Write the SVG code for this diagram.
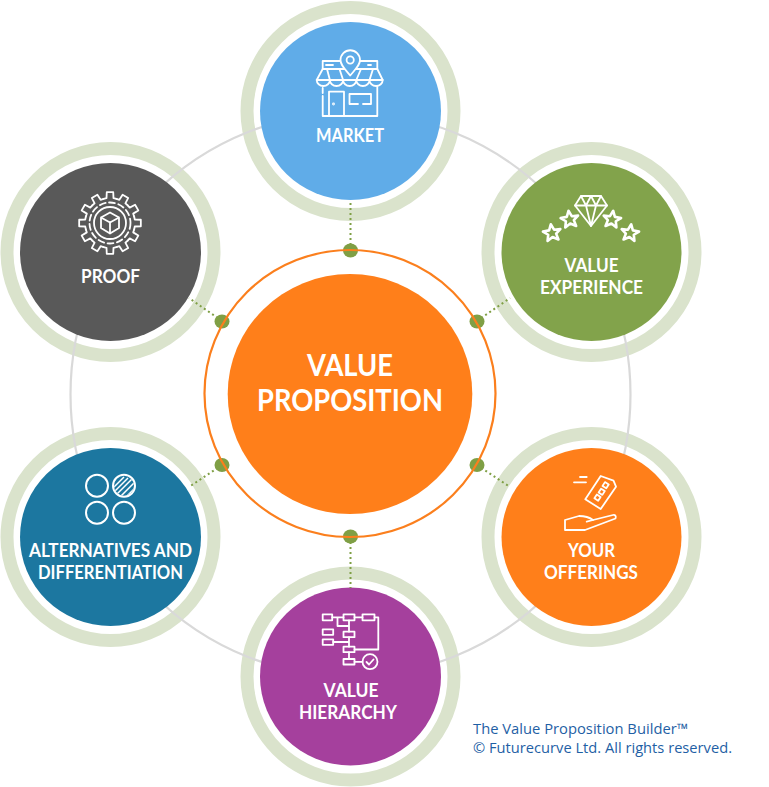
<svg xmlns="http://www.w3.org/2000/svg" xmlns:xlink="http://www.w3.org/1999/xlink" width="769" height="787" viewBox="0 0 769 787">
<style>
.ring{fill:#fff;stroke:#DAE3CC;stroke-width:13}
.ic{fill:none;stroke:#fff;stroke-width:1.8;stroke-linejoin:round;stroke-linecap:round}
.lb{font-family:"Lato","Liberation Sans",sans-serif;font-weight:700;font-size:19px;fill:#fff}
.big{font-size:29.500px}
.dot{fill:#7F9F45}
.dl{fill:none;stroke:#7F9F45;stroke-width:2;stroke-dasharray:2 3}
.ft{font-family:"Open Sans","Liberation Sans",sans-serif;font-size:14.500px;fill:#1F5FA5}
</style>
<defs>
<path id="tooth" class="ic" d="M-6.470-24.150L-3.480-24.760L-3.240-30.830L3.240-30.830L3.480-24.760L6.470-24.150"/>
<path id="star" d="M0-8.800L2.500-3L8.800-2.700L4 1.200L5.500 7.300L0 4L-5.500 7.300L-4 1.200L-8.800-2.700L-2.500-3Z" fill="none" stroke="#fff" stroke-width="2.600" stroke-linejoin="round"/>
<clipPath id="hatch"><circle cx="124" cy="485.700" r="10"/></clipPath>
</defs>

<g id="rings">
<circle class="ring" cx="350.500" cy="111" r="103.500"/>
<circle class="ring" cx="591.500" cy="252" r="103.500"/>
<circle class="ring" cx="591.500" cy="537" r="103.500"/>
<circle class="ring" cx="350.500" cy="676.500" r="103.500"/>
<circle class="ring" cx="110.500" cy="537" r="103.500"/>
<circle class="ring" cx="110.500" cy="252" r="103.500"/>
</g>
<g id="orbit"><ellipse cx="350.500" cy="394.500" rx="280" ry="282" fill="none" stroke="#D9D9D9" stroke-width="2.200"/></g>

<g id="market">
<ellipse cx="350.500" cy="111" rx="90.500" ry="89" fill="#60ACE8"/>
<g class="ic">
<path d="M322.700 69V61H377.300V69M326 65H333M368 65H371"/>
<path d="M322.700 69H377.300L382.700 80H316.700Z"/>
<path d="M316.700 80a6.600 6 0 0 0 13.200 0a6.600 6 0 0 0 13.200 0a6.600 6 0 0 0 13.200 0a6.600 6 0 0 0 13.200 0a6.600 6 0 0 0 13.200 0"/>
<path d="M327 69L329.900 80M339.500 69L343.100 80M361 69L356.300 80M373 69L369.500 80"/>
<path d="M322.700 88V93M322.700 96V116H377.300V87"/>
<path d="M329 116V91.700H344V116"/>
<path d="M363 104H371V94H349.500V104H358"/>
<circle cx="333.500" cy="104" r=".5"/>
<path d="M350.200 75.500C344 68 340.500 65 340.500 60A9.700 9.700 0 0 1 360 60C360 65 356.500 68 350.200 75.500Z" fill="#60ACE8"/>
<circle cx="350.200" cy="60" r="3.600"/>
</g>
<text class="lb" x="350" y="142" text-anchor="middle" textLength="68" lengthAdjust="spacingAndGlyphs">MARKET</text>
</g>

<g id="value-experience">
<ellipse cx="591.500" cy="252" rx="90" ry="89" fill="#82A34B"/>
<g class="ic">
<path d="M581 196H601L607 205.500L591 226L575 205.500Z"/>
<path d="M575 205.500H607M586 205.500L591 226L596 205.500M581 196L586 205.500L591 196L596 205.500L601 196"/>
</g>
<use xlink:href="#star" href="#star" transform="translate(552 233) rotate(-8)"/>
<use xlink:href="#star" href="#star" transform="translate(569.700 219.500) rotate(-8)"/>
<use xlink:href="#star" href="#star" transform="translate(612 219.500) rotate(8)"/>
<use xlink:href="#star" href="#star" transform="translate(630 233) rotate(8)"/>
<text class="lb" x="591.500" y="272" text-anchor="middle" textLength="54" lengthAdjust="spacingAndGlyphs">VALUE</text>
<text class="lb" x="591.500" y="293.500" text-anchor="middle" textLength="103" lengthAdjust="spacingAndGlyphs">EXPERIENCE</text>
</g>

<g id="your-offerings">
<ellipse cx="591.500" cy="537" rx="90" ry="89" fill="#FF7F1A"/>
<g class="ic">
<path d="M600.700 476L613.500 480.700L616 486.700L600.700 509L585.300 499.300Z"/>
<rect x="595.300" y="495.300" width="4.500" height="4.500" transform="rotate(33 597.500 497.500)"/>
<rect x="599.500" y="489.500" width="4.500" height="4.500" transform="rotate(33 601.700 491.700)"/>
<rect x="603.500" y="483" width="4.500" height="4.500" transform="rotate(33 605.700 485)"/>
<path d="M574 482.300H586M580 477H586.700"/>
<path d="M565 520V530H585L615.500 518.500C616.500 516 615 514.500 613 515L593 520C589 517 584 516 579 516Z"/>
<path d="M586.700 521.700L593 520"/>
</g>
<text class="lb" x="591.500" y="557" text-anchor="middle" textLength="47" lengthAdjust="spacingAndGlyphs">YOUR</text>
<text class="lb" x="591" y="578.500" text-anchor="middle" textLength="94" lengthAdjust="spacingAndGlyphs">OFFERINGS</text>
</g>

<g id="value-hierarchy">
<ellipse cx="350.500" cy="676.500" rx="90.500" ry="89" fill="#A5409D"/>
<g class="ic">
<rect x="322.700" y="614.300" width="9.500" height="6"/>
<rect x="343.500" y="614.300" width="11" height="6"/>
<rect x="362.500" y="614.300" width="12" height="6"/>
<rect x="322.700" y="629.300" width="10.500" height="5.500"/>
<rect x="343.500" y="631.700" width="11" height="5.500"/>
<rect x="322.700" y="639.300" width="10.500" height="5.500"/>
<rect x="343.500" y="646.700" width="11" height="5.500"/>
<rect x="343.500" y="659" width="11" height="5.500"/>
<circle cx="370" cy="661.700" r="7.500"/>
<path d="M366.500 662L369 664.500L373.500 659.500"/>
<path d="M332.200 617.300H343.500M354.500 617.300H362.500M374.500 617.300H378.300V649.500H354.500M337.500 617.300V626H349M349 620.300V631.700M349 637.200V646.700M349 652.200V659M354.500 661.800H362.500M333.200 642H349"/>
</g>
<text class="lb" x="351" y="697" text-anchor="middle" textLength="55" lengthAdjust="spacingAndGlyphs">VALUE</text>
<text class="lb" x="348" y="718.500" text-anchor="middle" textLength="98" lengthAdjust="spacingAndGlyphs">HIERARCHY</text>
</g>

<g id="alternatives">
<ellipse cx="110.500" cy="537" rx="90.500" ry="89" fill="#1C77A0"/>
<g class="ic" style="stroke-width:2">
<circle cx="97" cy="485.700" r="11"/>
<circle cx="124" cy="485.700" r="11"/>
<circle cx="97" cy="512.700" r="11"/>
<circle cx="124" cy="512.700" r="11"/>
</g>
<g clip-path="url(#hatch)" stroke="#fff" stroke-width="1.500">
<path d="M112 489L124 477M113 493L128 478M116 495L132 479M120 497L134 483M125 498L136 487M130 498L137 491"/>
</g>
<text class="lb" x="110.500" y="557" text-anchor="middle" textLength="163" lengthAdjust="spacingAndGlyphs">ALTERNATIVES AND</text>
<text class="lb" x="110.500" y="578.500" text-anchor="middle" textLength="145" lengthAdjust="spacingAndGlyphs">DIFFERENTIATION</text>
</g>

<g id="proof">
<ellipse cx="110.500" cy="252" rx="90.500" ry="89" fill="#595959"/>
<g transform="translate(110 223)">
<use xlink:href="#tooth" href="#tooth"/>
<use xlink:href="#tooth" href="#tooth" transform="rotate(30)"/>
<use xlink:href="#tooth" href="#tooth" transform="rotate(60)"/>
<use xlink:href="#tooth" href="#tooth" transform="rotate(90)"/>
<use xlink:href="#tooth" href="#tooth" transform="rotate(120)"/>
<use xlink:href="#tooth" href="#tooth" transform="rotate(150)"/>
<use xlink:href="#tooth" href="#tooth" transform="rotate(180)"/>
<use xlink:href="#tooth" href="#tooth" transform="rotate(210)"/>
<use xlink:href="#tooth" href="#tooth" transform="rotate(240)"/>
<use xlink:href="#tooth" href="#tooth" transform="rotate(270)"/>
<use xlink:href="#tooth" href="#tooth" transform="rotate(300)"/>
<use xlink:href="#tooth" href="#tooth" transform="rotate(330)"/>
<circle class="ic" r="20.500" stroke-dasharray="6 3.500"/>
<circle class="ic" r="16"/>
<path class="ic" d="M0-10.500L9-5.500V5L0 10.500L-9 5V-5.500ZM-9-5.500L0-.5L9-5.500M0-.5V10.500"/>
</g>
<text class="lb" x="110.500" y="282.500" text-anchor="middle" textLength="59" lengthAdjust="spacingAndGlyphs">PROOF</text>
</g>

<g id="connectors">
<path class="dl" d="M350.500 203V250M350.500 537V588M222 321L189 298M477 321L510 298M222 465L189 487M477 465L510 487"/>
</g>

<g id="value-proposition">
<ellipse class="dot" cx="350.500" cy="250.500" rx="7.500" ry="7"/>
<ellipse class="dot" cx="350.500" cy="536.500" rx="7.500" ry="7"/>
<ellipse class="dot" cx="222" cy="321.500" rx="7.500" ry="7"/>
<ellipse class="dot" cx="477" cy="321.500" rx="7.500" ry="7"/>
<ellipse class="dot" cx="222" cy="465" rx="7.500" ry="7"/>
<ellipse class="dot" cx="477" cy="465" rx="7.500" ry="7"/>
<ellipse cx="350" cy="393.500" rx="145.500" ry="143.500" fill="none" stroke="#FB7F1D" stroke-width="2.200"/>
<ellipse cx="350" cy="394" rx="122.300" ry="120" fill="#FF7F1A"/>
<text class="lb big" x="350" y="376" text-anchor="middle" textLength="86" lengthAdjust="spacingAndGlyphs">VALUE</text>
<text class="lb big" x="350" y="411" text-anchor="middle" textLength="186" lengthAdjust="spacingAndGlyphs">PROPOSITION</text>
</g>

<g id="credit">
<text class="ft" x="473" y="734" textLength="215" lengthAdjust="spacingAndGlyphs">The Value Proposition Builder™</text>
<text class="ft" x="473" y="753" textLength="259" lengthAdjust="spacingAndGlyphs">© Futurecurve Ltd. All rights reserved.</text>
</g>
</svg>
